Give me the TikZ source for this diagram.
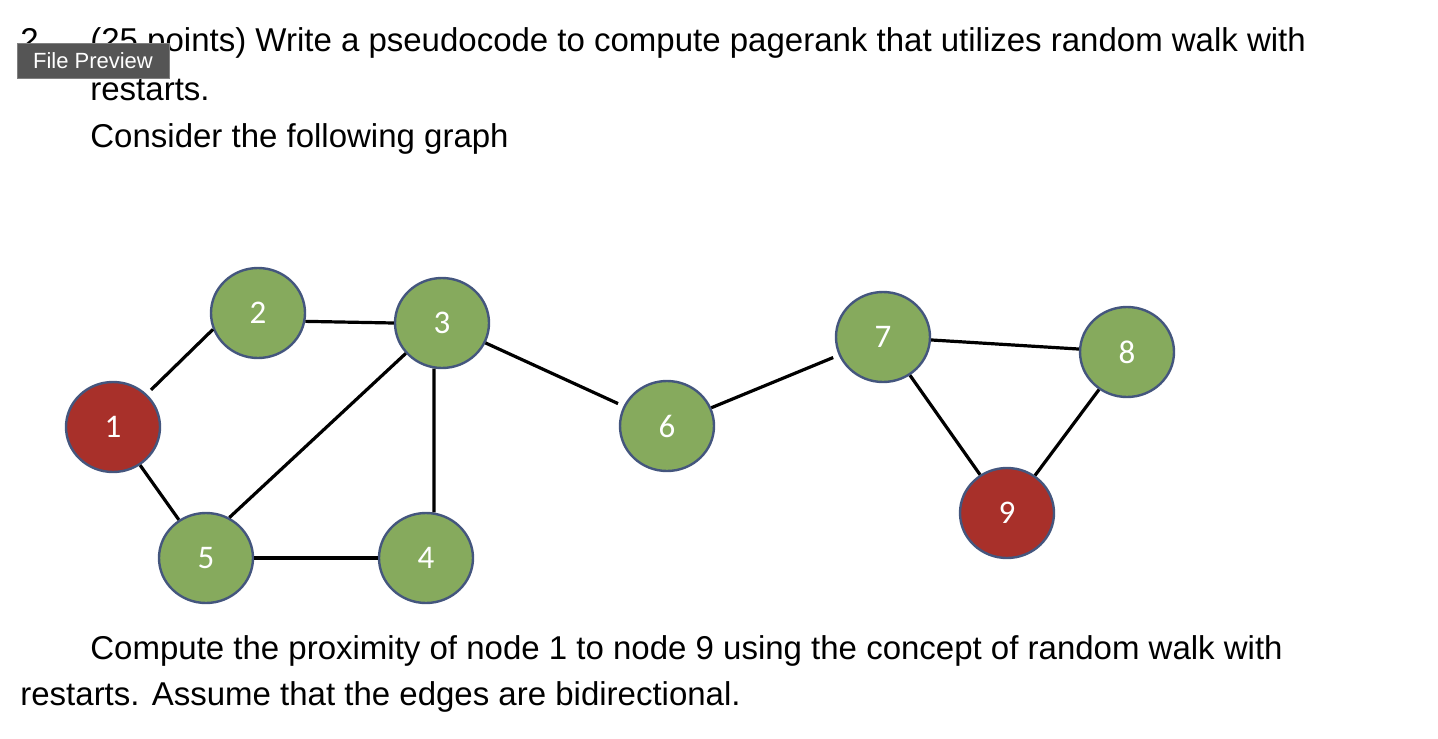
\documentclass[tikz,border=0pt]{standalone}
\usepackage{fontspec}
\setmainfont{Liberation Sans}
\newfontfamily\nodefont{Carlito}
\begin{document}
\begin{tikzpicture}[x=0.5pt,y=-0.5pt,
  v/.style={ellipse,minimum width=47pt,minimum height=45pt,draw=borderblue,line width=1.2pt,text=white,font=\nodefont\fontsize{16.5}{16.5}\selectfont,inner sep=0pt},
  g/.style={v,fill=ngreen},
  r/.style={v,fill=nred},
  e/.style={line width=1.6pt,black},
  t/.style={anchor=base west,inner sep=0pt,font=\fontsize{16.5}{16.5}\selectfont}]
\usetikzlibrary{shapes.geometric}
\definecolor{ngreen}{HTML}{86AA5D}
\definecolor{nred}{HTML}{A8302A}
\definecolor{borderblue}{HTML}{44567E}
\definecolor{boxgray}{HTML}{555555}
\useasboundingbox (0,0) rectangle (1438,738);
\node[t] (l1a) at (20,52) {2.};
\node[t] (l1) at (90,52) {(25 points) Write a pseudocode to compute pagerank that utilizes random walk with};
\node[t] (l2) at (90,100) {restarts.};
\node[t] (l3) at (90,148) {Consider the following graph};
\node[t] (l4) at (90,659) {Compute the proximity of node 1 to node 9 using the concept of random walk with};
\node[t] (l5) at (20,705) {restarts. Assume that the edges are bidirectional.};
\node[fill=boxgray,draw=gray,minimum width=76pt,minimum height=17.5pt,inner sep=0pt,text=white,font=\fontsize{11}{11}\selectfont] (fp) at (93,60.5) {File Preview};
\node[r] (n1) at (113,427) {1};
\node[g] (n2) at (258,313) {2};
\node[g] (n3) at (442,323) {3};
\node[g] (n4) at (426,558) {4};
\node[g] (n5) at (206,558) {5};
\node[g] (n6) at (667,426) {6};
\node[g] (n7) at (883,337) {7};
\node[g] (n8) at (1127,352) {8};
\node[r] (n9) at (1007,513) {9};
\draw[e,shorten <=3pt] (n1) -- (n2.200);
\draw[e] (n2.-10) -- (n3.180);
\draw[e] (n1) -- (n5);
\draw[e] (n5.60) -- (n3.220);
\draw[e] (n5) -- (n4);
\draw[e] (n3.-100) -- (n4.80);
\draw[e,shorten >=3pt] (n3) -- (n6);
\draw[e,shorten >=3pt] (n6) -- (n7);
\draw[e] (n7) -- (n8);
\draw[e] (n7) -- (n9);
\draw[e] (n9) -- (n8);
\end{tikzpicture}
\end{document}
